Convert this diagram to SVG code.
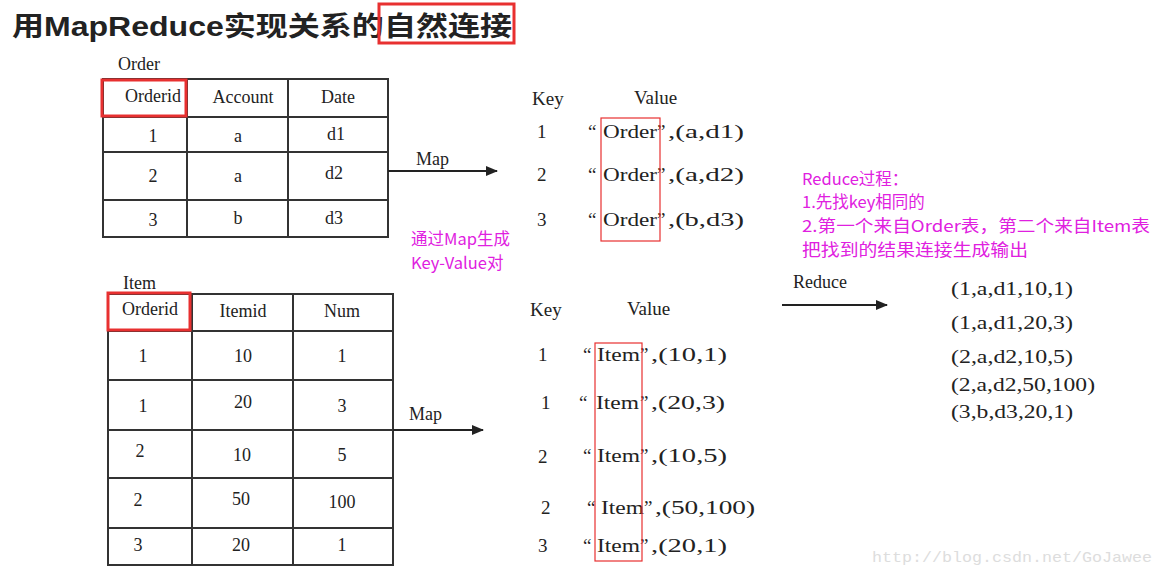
<svg xmlns="http://www.w3.org/2000/svg" width="1163" height="575" viewBox="0 0 1163 575">
<style>
.t{font-family:"Liberation Serif",serif;font-size:18px;fill:#222}
.k{font-size:19px}
.c{text-anchor:middle}
.g{fill:none;stroke:#333;stroke-width:2}
.r{fill:none;stroke:#e83030;stroke-width:3}
.rt{fill:none;stroke:#e83030;stroke-width:1.2}
.m{font-family:"Noto Sans CJK SC",sans-serif;font-size:16.5px;fill:#e020e0}
.a{stroke:#222;stroke-width:2;marker-end:url(#ar)}
</style>
<defs><marker id="ar" markerWidth="12" markerHeight="10" refX="11" refY="5" orient="auto" markerUnits="userSpaceOnUse"><path d="M0,0L12,5L0,10z" fill="#222"/></marker></defs>
<rect width="1163" height="575" fill="#fff"/>
<g id="title"><text x="12" y="36" font-family="Liberation Sans,Noto Sans CJK SC,sans-serif" font-weight="bold" font-size="27" fill="#222" textLength="500" lengthAdjust="spacingAndGlyphs">用MapReduce实现关系的自然连接</text><rect class="r" x="379" y="4" width="135" height="39"/></g>
<g id="orderTable">
<text class="t" x="118" y="70">Order</text>
<rect class="g" x="103" y="79" width="285" height="158"/>
<path class="g" d="M187,79V237M288,79V237M103,117H388M103,152H388M103,200H388"/>
<rect class="r" x="102" y="80" width="84" height="36"/>
<text class="t c" x="153" y="102" font-size="12">Orderid</text><text class="t c" x="243" y="103">Account</text><text class="t c" x="338" y="103">Date</text>
<text class="t c" x="153" y="142">1</text><text class="t c" x="238" y="142">a</text><text class="t c" x="336" y="140">d1</text>
<text class="t c" x="153" y="182">2</text><text class="t c" x="238" y="182">a</text><text class="t c" x="334" y="179">d2</text>
<text class="t c" x="153" y="226">3</text><text class="t c" x="238" y="224">b</text><text class="t c" x="334" y="224">d3</text>
</g>
<g id="itemTable">
<text class="t" x="123" y="289">Item</text>
<rect class="g" x="108" y="294" width="285" height="271"/>
<path class="g" d="M192,294V565M293,294V565M108,331H393M108,380H393M108,430H393M108,478H393M108,528H393"/>
<rect class="r" x="108" y="293" width="82" height="37"/>
<text class="t c" x="150" y="315">Orderid</text><text class="t c" x="243" y="317">Itemid</text><text class="t c" x="342" y="317">Num</text>
<text class="t c" x="143" y="362">1</text><text class="t c" x="243" y="362">10</text><text class="t c" x="342" y="362">1</text>
<text class="t c" x="143" y="412">1</text><text class="t c" x="243" y="408">20</text><text class="t c" x="342" y="412">3</text>
<text class="t c" x="140" y="457">2</text><text class="t c" x="242" y="461">10</text><text class="t c" x="342" y="461">5</text>
<text class="t c" x="138" y="506">2</text><text class="t c" x="241" y="505">50</text><text class="t c" x="342" y="508">100</text>
<text class="t c" x="138" y="551">3</text><text class="t c" x="241" y="551">20</text><text class="t c" x="342" y="551">1</text>
</g>
<g id="connectors">
<line class="a" x1="388" y1="171" x2="497" y2="171"/><text class="t" x="416" y="165">Map</text>
<line class="a" x1="393" y1="430" x2="483" y2="430"/><text class="t" x="409" y="420">Map</text>
<line class="a" x1="782" y1="305" x2="887" y2="305"/><text class="t" x="793" y="288">Reduce</text>
</g>
<g id="orderKV">
<text class="t k" x="532" y="105">Key</text><text class="t k" x="634" y="104">Value</text>
<text class="t k" x="537" y="138">1</text><text class="t k" x="588" y="138">“<tspan x="603" textLength="54" lengthAdjust="spacingAndGlyphs">Order</tspan><tspan x="657">”</tspan><tspan x="668" textLength="76" lengthAdjust="spacingAndGlyphs">,(a,d1)</tspan></text>
<text class="t k" x="537" y="181">2</text><text class="t k" x="588" y="181">“<tspan x="603" textLength="54" lengthAdjust="spacingAndGlyphs">Order</tspan><tspan x="657">”</tspan><tspan x="668" textLength="76" lengthAdjust="spacingAndGlyphs">,(a,d2)</tspan></text>
<text class="t k" x="537" y="226">3</text><text class="t k" x="588" y="226">“<tspan x="603" textLength="54" lengthAdjust="spacingAndGlyphs">Order</tspan><tspan x="657">”</tspan><tspan x="668" textLength="76" lengthAdjust="spacingAndGlyphs">,(b,d3)</tspan></text>
<rect class="rt" x="601" y="118" width="59" height="123"/>
</g>
<g id="itemKV">
<text class="t k" x="530" y="316">Key</text><text class="t k" x="627" y="315">Value</text>
<text class="t k" x="538" y="361">1</text><text class="t k" x="583" y="361">“<tspan x="597" textLength="43" lengthAdjust="spacingAndGlyphs">Item</tspan><tspan x="640">”</tspan><tspan x="651" textLength="76" lengthAdjust="spacingAndGlyphs">,(10,1)</tspan></text>
<text class="t k" x="541" y="409">1</text><text class="t k" x="579" y="409">“<tspan x="596" textLength="43" lengthAdjust="spacingAndGlyphs">Item</tspan><tspan x="640">”</tspan><tspan x="651" textLength="74" lengthAdjust="spacingAndGlyphs">,(20,3)</tspan></text>
<text class="t k" x="538" y="463">2</text><text class="t k" x="583" y="462">“<tspan x="597" textLength="43" lengthAdjust="spacingAndGlyphs">Item</tspan><tspan x="640">”</tspan><tspan x="651" textLength="76" lengthAdjust="spacingAndGlyphs">,(10,5)</tspan></text>
<text class="t k" x="541" y="514">2</text><text class="t k" x="587" y="514">“<tspan x="601" textLength="43" lengthAdjust="spacingAndGlyphs">Item</tspan><tspan x="644">”</tspan><tspan x="655" textLength="100" lengthAdjust="spacingAndGlyphs">,(50,100)</tspan></text>
<text class="t k" x="538" y="552">3</text><text class="t k" x="583" y="552">“<tspan x="597" textLength="43" lengthAdjust="spacingAndGlyphs">Item</tspan><tspan x="640">”</tspan><tspan x="651" textLength="76" lengthAdjust="spacingAndGlyphs">,(20,1)</tspan></text>
<rect class="rt" x="595" y="343" width="47" height="218"/>
</g>
<g id="result">
<text class="t k" x="951" y="295" textLength="122" lengthAdjust="spacingAndGlyphs">(1,a,d1,10,1)</text>
<text class="t k" x="951" y="329" textLength="122" lengthAdjust="spacingAndGlyphs">(1,a,d1,20,3)</text>
<text class="t k" x="951" y="363" textLength="122" lengthAdjust="spacingAndGlyphs">(2,a,d2,10,5)</text>
<text class="t k" x="951" y="391" textLength="144" lengthAdjust="spacingAndGlyphs">(2,a,d2,50,100)</text>
<text class="t k" x="951" y="418" textLength="122" lengthAdjust="spacingAndGlyphs">(3,b,d3,20,1)</text>
</g>
<g id="notes">
<text class="m" x="411" y="245">通过Map生成</text><text class="m" x="411" y="269">Key-Value对</text>
<text class="m" x="802" y="185">Reduce过程：</text>
<text class="m" x="802" y="208">1.先找key相同的</text>
<text class="m" x="802" y="232" textLength="348" lengthAdjust="spacingAndGlyphs">2.第一个来自Order表，第二个来自Item表</text>
<text class="m" x="802" y="256" textLength="226" lengthAdjust="spacingAndGlyphs">把找到的结果连接生成输出</text>
</g>
<text x="872" y="562" font-family="Liberation Mono,monospace" font-size="15" fill="#ddd" textLength="280" lengthAdjust="spacingAndGlyphs">http://blog.csdn.net/GoJawee</text>
</svg>
